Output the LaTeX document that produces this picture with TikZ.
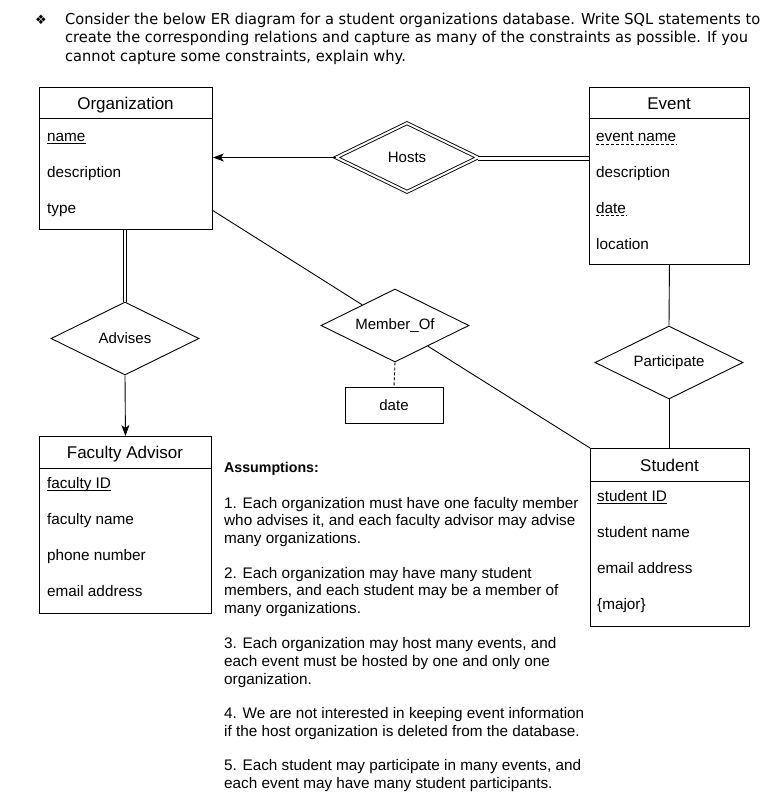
\documentclass[tikz,border=0pt]{standalone}
\usepackage{fontspec}
\setmainfont{Liberation Sans}
\newfontfamily\hdrfont{DejaVu Sans}[FakeStretch=0.975]
\newfontfamily\bulfont{DejaVu Sans}
\usetikzlibrary{shapes.geometric,arrows.meta}
\begin{document}
\begin{tikzpicture}[x=1pt,y=-1pt,
  ln/.style={line width=0.9pt, draw=black},
  entbox/.style={ln, rectangle, anchor=north west, inner sep=0pt},
  attr/.style={anchor=base west, inner sep=0pt, font=\fontsize{15.3}{18}\selectfont},
  enthead/.style={anchor=base, inner sep=0pt, font=\fontsize{17}{20}\selectfont},
  rel/.style={ln, diamond, aspect=2, inner sep=0pt, minimum width=148pt, minimum height=73pt, font=\fontsize{15}{18}\selectfont},
  keyline/.style={line width=0.8pt},
  pkeyline/.style={line width=0.8pt, dash pattern=on 3pt off 2pt},
  asm/.style={anchor=base west, inner sep=0pt, font=\fontsize{15.3}{18}\selectfont},
  intro/.style={anchor=base west, inner sep=0pt, font=\hdrfont\fontsize{15}{18}\selectfont},
  arr/.style={ln, -{Stealth[length=11pt,width=8pt,inset=3pt]}},
  dbl/.style={ln, double, double distance=2.5pt},
]
\useasboundingbox (0,0) rectangle (777,801);

% ---------- intro text ----------
\node[font=\bulfont\fontsize{13}{13}\selectfont, inner sep=0pt] (bullet) at (41,20) {❖};
\node[intro] (in1) at (65,24) {Consider the below ER diagram for a student organizations database. Write SQL statements to};
\node[intro] (in2) at (65,42.5) {create the corresponding relations and capture as many of the constraints as possible. If you};
\node[intro] (in3) at (65,61) {cannot capture some constraints, explain why.};

% ---------- Organization ----------
\node[entbox, minimum width=173pt, minimum height=142pt] (org) at (39,87) {};
\draw[ln] ([yshift=-31pt]org.north west) -- ([yshift=-31pt]org.north east);
\node[enthead] (orgh) at (125.5,109) {Organization};
\node[attr] (oname) at (47,141) {name};
\draw[keyline] ([yshift=-2.5pt]oname.base west) -- ([yshift=-2.5pt]oname.base east);
\node[attr] (odesc) at (47,177) {description};
\node[attr] (otype) at (47,213) {type};
\coordinate (orgT) at (212,210);

% ---------- Event ----------
\node[entbox, minimum width=160pt, minimum height=177pt] (event) at (589,87) {};
\draw[ln] ([yshift=-31pt]event.north west) -- ([yshift=-31pt]event.north east);
\node[enthead] (evh) at (669,109) {Event};
\node[attr] (ename) at (596,141.5) {event name};
\draw[pkeyline] ([yshift=-2.5pt]ename.base west) -- ([yshift=-2.5pt]ename.base east);
\node[attr] (edesc) at (596,177) {description};
\node[attr] (edate) at (596,213) {date};
\draw[pkeyline] ([yshift=-2.5pt]edate.base west) -- ([yshift=-2.5pt]edate.base east);
\node[attr] (eloc) at (596,249) {location};

% ---------- Faculty Advisor ----------
\node[entbox, minimum width=172pt, minimum height=177pt] (fac) at (39,436) {};
\draw[ln] ([yshift=-32pt]fac.north west) -- ([yshift=-32pt]fac.north east);
\node[enthead] (fach) at (125,458) {Faculty Advisor};
\node[attr] (fid) at (47,488) {faculty ID};
\draw[keyline] ([yshift=-2.5pt]fid.base west) -- ([yshift=-2.5pt]fid.base east);
\node[attr] (fname) at (47,524) {faculty name};
\node[attr] (fphone) at (47,560) {phone number};
\node[attr] (femail) at (47,596) {email address};

% ---------- Student ----------
\node[entbox, minimum width=159pt, minimum height=178pt] (stu) at (590,448) {};
\draw[ln] ([yshift=-33pt]stu.north west) -- ([yshift=-33pt]stu.north east);
\node[enthead] (stuh) at (669.5,471) {Student};
\node[attr] (sid) at (597,501) {student ID};
\draw[keyline] ([yshift=-2.5pt]sid.base west) -- ([yshift=-2.5pt]sid.base east);
\node[attr] (sname) at (597,537) {student name};
\node[attr] (semail) at (597,573) {email address};
\node[attr] (smajor) at (597,609) {\{major\}};

% ---------- relationships ----------
\node[rel, double, double distance=2pt, minimum width=142pt, minimum height=69pt] (hosts) at (407,157.5) {Hosts};
\node[rel] (advises) at (125,338.5) {Advises};
\node[rel] (member) at (395,325.5) {Member\_Of};
\node[rel] (part) at (669,362.5) {Participate};
\node[ln, rectangle, inner sep=0pt, minimum width=98pt, minimum height=36pt, font=\fontsize{15}{18}\selectfont] (mdate) at (394,405) {date};

% ---------- connectors ----------
\draw[arr] (hosts.west) -- (hosts.west -| org.east);
\draw[dbl] ([yshift=-1pt]hosts.east) -- ([yshift=-1pt]hosts.east -| event.west);
\draw[dbl] (advises.north |- org.south) -- (advises.north);
\draw[arr] (advises.south) -- (fac.north);
\draw[ln] (orgT) -- (member);
\draw[ln] (member) -- (stu.north west);
\draw[ln, dash pattern=on 3pt off 2pt] (member.south) -- (mdate.north);
\draw[ln] (event.south) -- (part.north);
\draw[ln] (part.south) -- (part.south |- stu.north);

% ---------- assumptions ----------
\node[anchor=base west, inner sep=0pt, font=\bfseries\fontsize{14.2}{17}\selectfont] (asmh) at (224,472.5) {Assumptions:};
\node[asm] (a1) at (224,508) {1. Each organization must have one faculty member};
\node[asm] (a2) at (224,525.8) {who advises it, and each faculty advisor may advise};
\node[asm] (a3) at (224,543.6) {many organizations.};
\node[asm] (a4) at (224,578) {2. Each organization may have many student};
\node[asm] (a5) at (224,595.8) {members, and each student may be a member of};
\node[asm] (a6) at (224,613.6) {many organizations.};
\node[asm] (a7) at (224,648.5) {3. Each organization may host many events, and};
\node[asm] (a8) at (224,666.3) {each event must be hosted by one and only one};
\node[asm] (a9) at (224,684.1) {organization.};
\node[asm] (a10) at (224,718.5) {4. We are not interested in keeping event information};
\node[asm] (a11) at (224,736.3) {if the host organization is deleted from the database.};
\node[asm] (a12) at (224,770.5) {5. Each student may participate in many events, and};
\node[asm] (a13) at (224,788.3) {each event may have many student participants.};
\end{tikzpicture}
\end{document}
